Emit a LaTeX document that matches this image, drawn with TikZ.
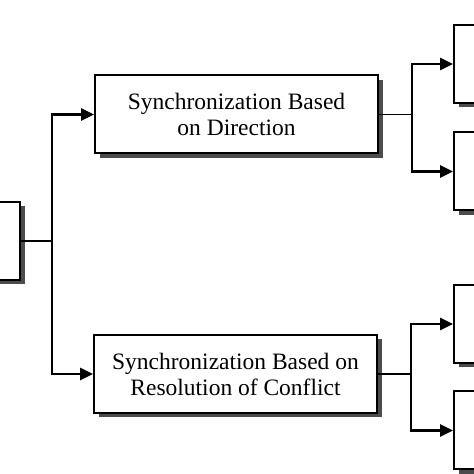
\documentclass[tikz,border=0pt]{standalone}
\usepackage{fontspec}
\setmainfont{Liberation Serif}
\usetikzlibrary{arrows.meta,positioning,shadows}
\tikzset{
  blk/.style={draw, line width=2pt, fill=white, minimum height=78pt, align=center,
    font=\fontsize{23.5}{26}\selectfont,
    drop shadow={shadow xshift=4.5pt, shadow yshift=-4.5pt, fill=black!70, opacity=1}},
  arr/.style={line width=2.6pt, -{Triangle[length=13pt,width=12pt]}},
  lnk/.style={line width=1.6pt},
}
\begin{document}
\begin{tikzpicture}[x=1pt,y=1pt]
  \useasboundingbox (0,0) rectangle (474,474);
  \clip (0,0) rectangle (474,474);
  % Root block (cut off on the left)
  \node[blk, minimum width=100pt] (root) at (-30,233) {};
  % Second level
  \node[blk, minimum width=283pt] (dir) at (236.5,359.5) {Synchronization Based\\on Direction};
  \node[blk, minimum width=283pt] (res) at (235.5,100) {Synchronization Based on\\Resolution of Conflict};
  % Third level (cut off on the right)
  \node[blk, minimum width=120pt, anchor=west] (dirA) at (453,410) {};
  \node[blk, minimum width=120pt, anchor=west] (dirB) at (453,302.5) {};
  \node[blk, minimum width=120pt, anchor=west] (resA) at (453,150) {};
  \node[blk, minimum width=120pt, anchor=west] (resB) at (453,43.5) {};
  % Split points
  \coordinate[right=31pt of root.east] (s0);
  \coordinate[right=33pt of dir.east] (s1);
  \coordinate[right=33pt of res.east] (s2);
  % Connectors
  \draw[lnk] (root.east) -- (s0);
  \draw[arr] (s0) |- (dir.west);
  \draw[arr] (s0) |- (res.west);
  \draw[lnk] (dir.east) -- (s1);
  \draw[arr] (s1) |- (dirA.west);
  \draw[arr] (s1) |- (dirB.west);
  \draw[lnk] (res.east) -- (s2);
  \draw[arr] (s2) |- (resA.west);
  \draw[arr] (s2) |- (resB.west);
\end{tikzpicture}
\end{document}
